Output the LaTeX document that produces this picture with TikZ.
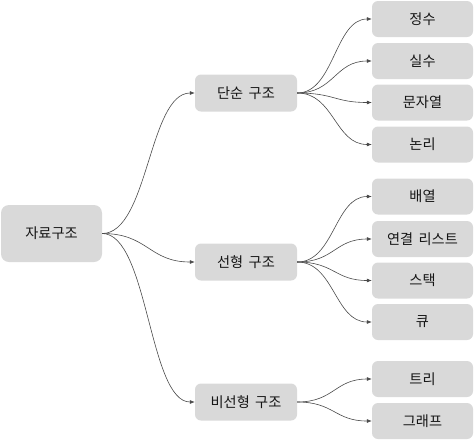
\documentclass[tikz,border=0pt]{standalone}
\usepackage{fontspec}
\newfontfamily\kr[WordSpace=1.7]{Noto Sans CJK KR}
\usetikzlibrary{arrows.meta}
\definecolor{boxfill}{HTML}{D9D9D9}
\definecolor{linec}{HTML}{4A4A4A}
\definecolor{txt}{HTML}{151515}
\tikzset{
  box/.style={draw=none, fill=boxfill, rounded corners=6pt, inner sep=0pt, font=\kr\fontsize{14.2}{17}\selectfont, text=txt},
  rootbox/.style={box, minimum width=101pt, minimum height=57pt, rounded corners=8pt},
  midbox/.style={box, minimum width=102pt, minimum height=37pt},
  leafbox/.style={box, minimum width=101pt, minimum height=36pt},
  conn/.style={draw=linec, line width=0.6pt, -{Latex[length=5pt,width=4pt]}}
}
\begin{document}
\begin{tikzpicture}[x=1pt,y=-1pt]
\useasboundingbox (0,0) rectangle (474,440);
\node[rootbox] (root) at (51.5,233.5) {자료구조};
\node[midbox] (s) at (246,93) {단순 구조};
\node[midbox] (l) at (246,262) {선형 구조};
\node[midbox] (n) at (246,402) {비선형 구조};
\node[leafbox] (a1) at (422.5,19) {정수};
\node[leafbox] (a2) at (422.5,61) {실수};
\node[leafbox] (a3) at (422.5,102.5) {문자열};
\node[leafbox] (a4) at (422.5,144.5) {논리};
\node[leafbox] (b1) at (422.5,196.5) {배열};
\node[leafbox] (b2) at (422.5,239) {연결 리스트};
\node[leafbox] (b3) at (422.5,280.5) {스택};
\node[leafbox] (b4) at (422.5,322) {큐};
\node[leafbox] (c1) at (422.5,379) {트리};
\node[leafbox] (c2) at (422.5,421) {그래프};
\foreach \t in {s,l,n}
  \draw[conn] (root.east) .. controls +(46,0) and +(-46,0) .. (\t.west);
\foreach \t in {a1,a2,a3,a4}
  \draw[conn] (s.east) .. controls +(37,0) and +(-37,0) .. (\t.west);
\foreach \t in {b1,b2,b3,b4}
  \draw[conn] (l.east) .. controls +(37,0) and +(-37,0) .. (\t.west);
\foreach \t in {c1,c2}
  \draw[conn] (n.east) .. controls +(37,0) and +(-37,0) .. (\t.west);
\end{tikzpicture}
\end{document}
